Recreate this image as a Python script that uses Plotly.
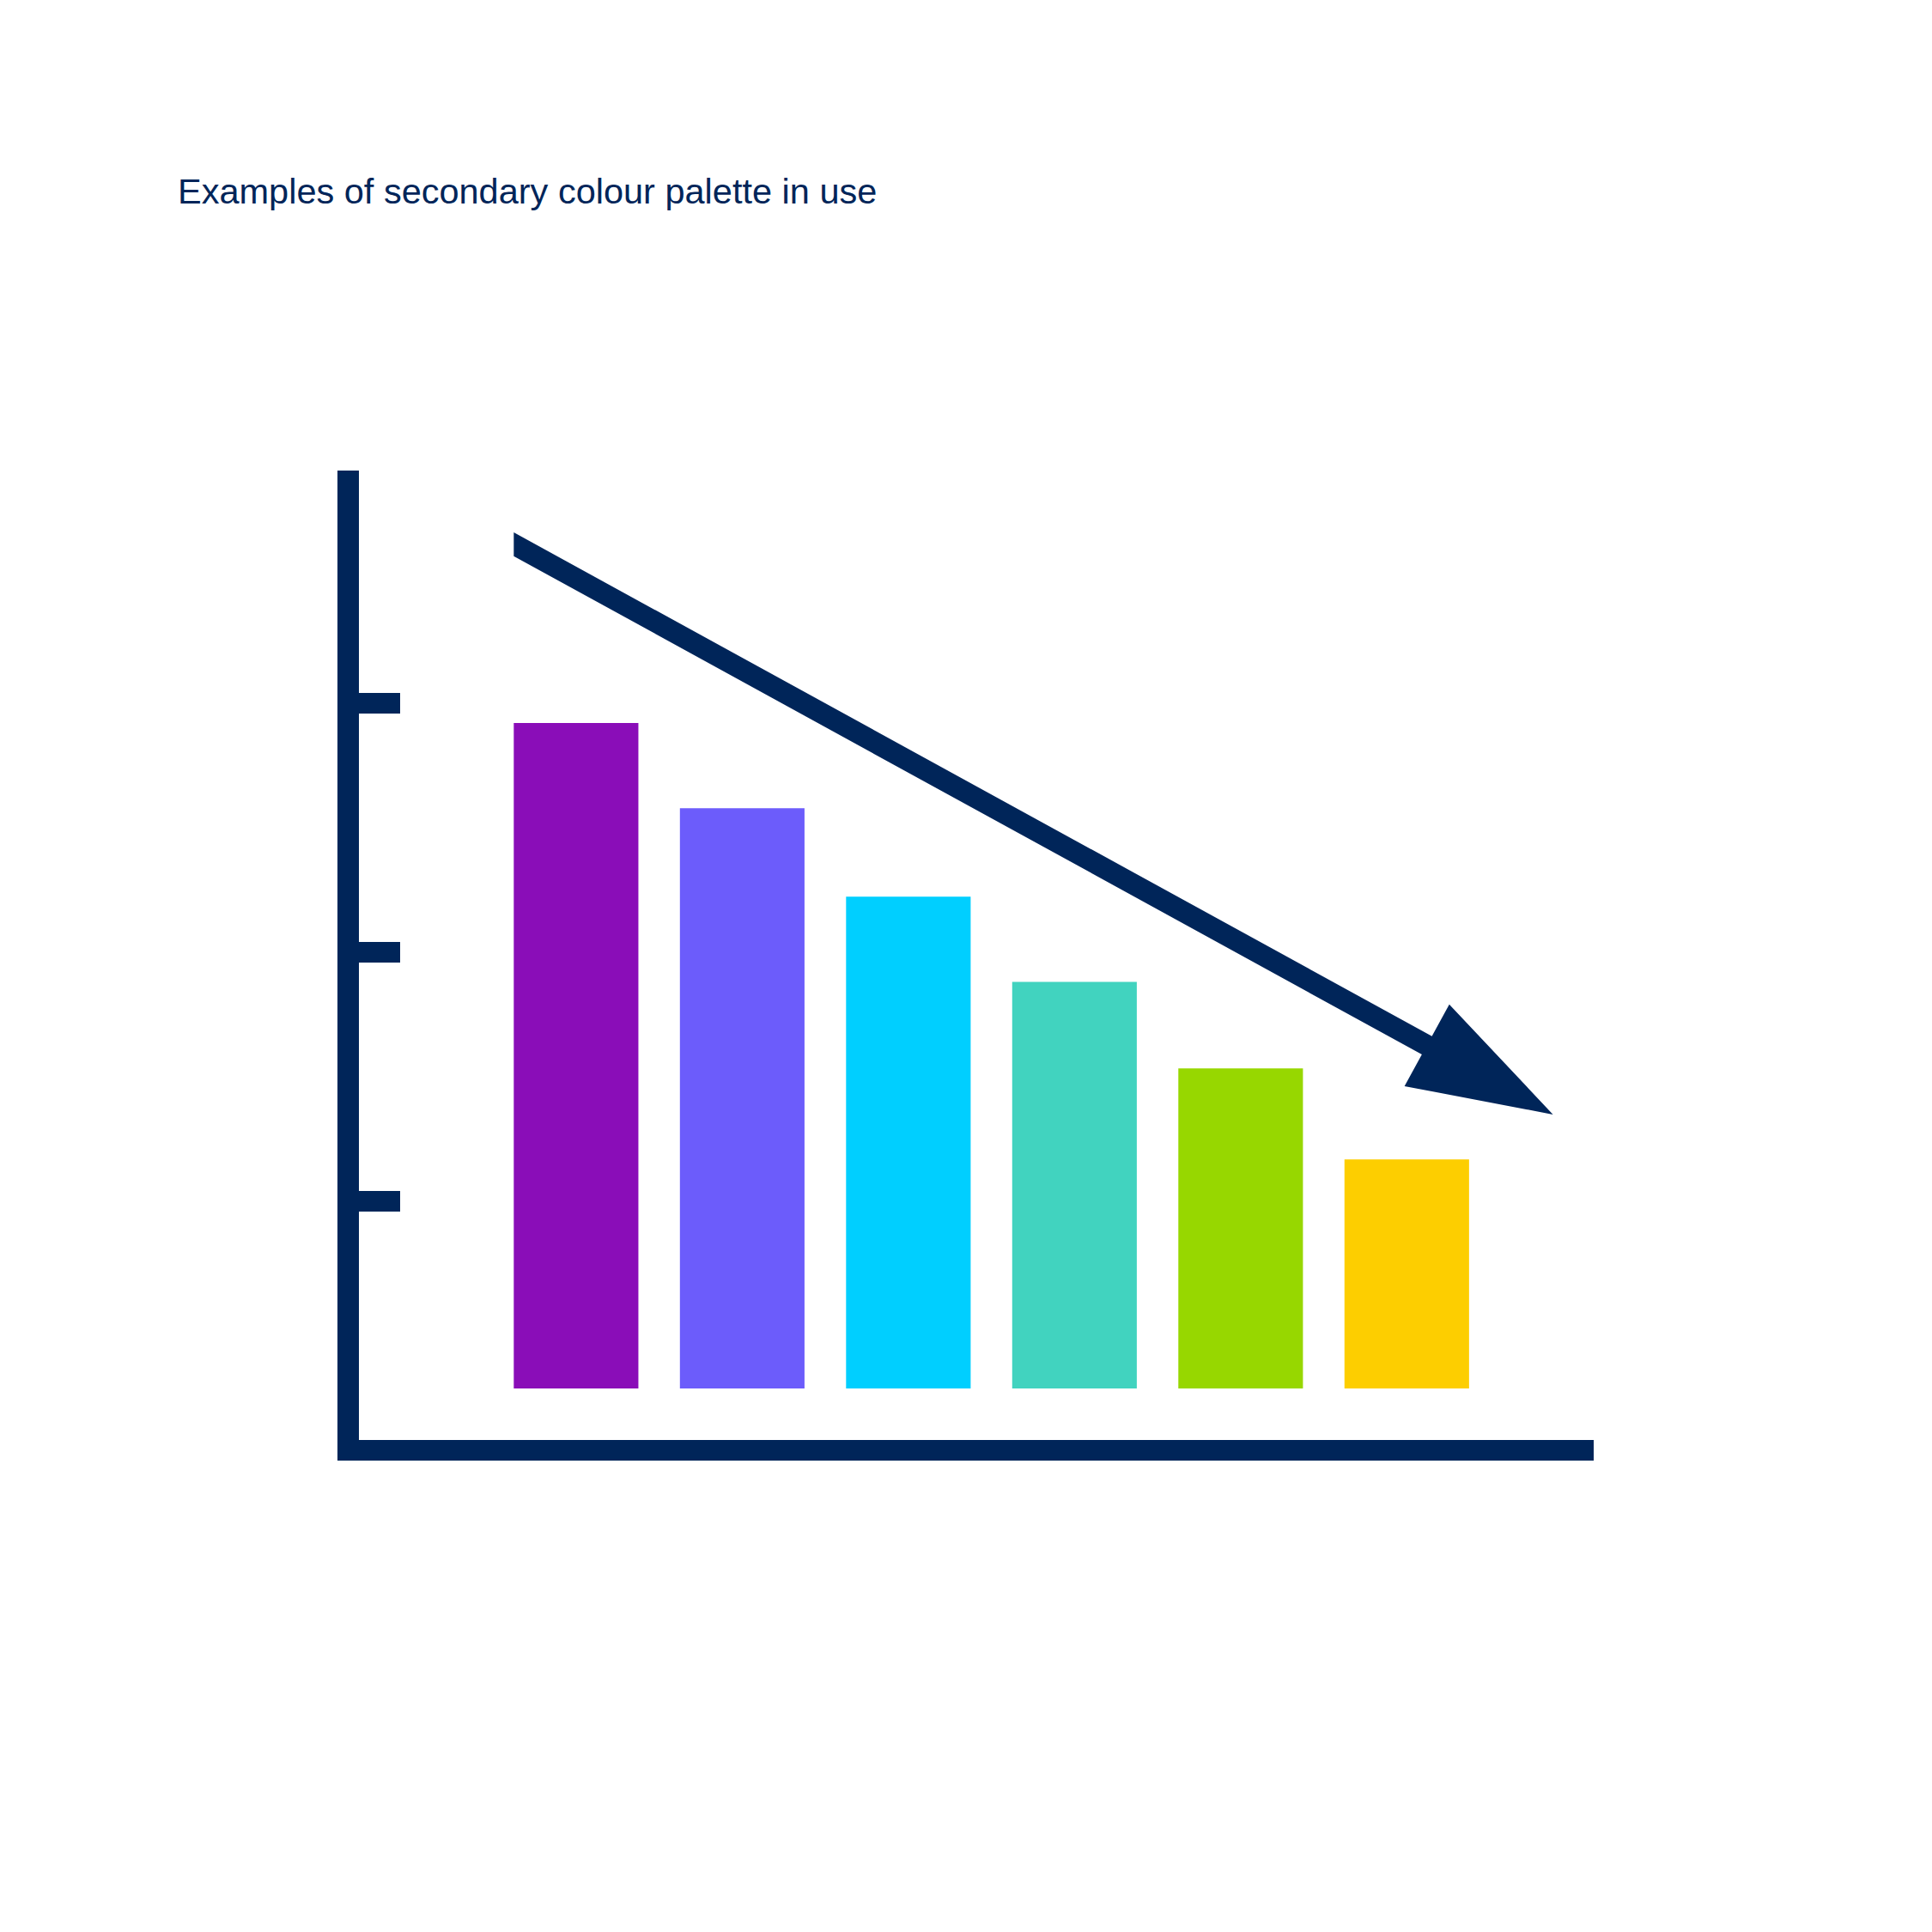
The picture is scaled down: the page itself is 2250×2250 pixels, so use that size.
import plotly.graph_objects as go

# ---- data ----
categories = ["Purple", "Violet", "Cyan", "Teal", "Lime", "Yellow"]
values = [53.45, 46.6, 39.5, 32.65, 25.7, 18.4]
bar_colors = ["#8A0DB8", "#6C5CFB", "#00CFFF", "#41D3BF", "#97D700", "#FDCE00"]
tick_values = [15, 35, 55]
arrow_x = [-0.375, 5.88]    # trend arrow start / tip (category units)
arrow_y = [67.8, 22.0]      # trend arrow start / tip (value units)
title_text = "Examples of secondary colour palette in use"

NAVY = "#002559"
W = H = 2250
OFF = 8  # default page margin of the html body
M_L, M_R, M_T, M_B = 418 - OFF, 394 + OFF, 548 - OFF, 573 + OFF
X_RANGE = [-1.307, 6.125]
Y_RANGE = [-4.14, 73.72]

pw = W - M_L - M_R
ph = H - M_T - M_B
sx = pw / (X_RANGE[1] - X_RANGE[0])
sy = ph / (Y_RANGE[1] - Y_RANGE[0])


def to_px(x, y):
    return ((x - X_RANGE[0]) * sx, (Y_RANGE[1] - y) * sy)


def to_data(px, py):
    return (X_RANGE[0] + px / sx, Y_RANGE[1] - py / sy)


# arrow geometry (pixel sizes)
HEAD_LEN, HEAD_HALF, SHAFT_HALF = 167.5, 54.2, 12.15
s = to_px(arrow_x[0], arrow_y[0])
t = to_px(arrow_x[1], arrow_y[1])
dx, dy = t[0] - s[0], t[1] - s[1]
L = (dx * dx + dy * dy) ** 0.5
ux, uy = dx / L, dy / L
nx, ny = uy, -ux  # upper normal
bx, by = t[0] - HEAD_LEN * ux, t[1] - HEAD_LEN * uy
vcut = SHAFT_HALF / ux
poly_px = [
    (s[0], s[1] - vcut),
    (bx + SHAFT_HALF * nx, by + SHAFT_HALF * ny),
    (bx + HEAD_HALF * nx, by + HEAD_HALF * ny),
    t,
    (bx - HEAD_HALF * nx, by - HEAD_HALF * ny),
    (bx - SHAFT_HALF * nx, by - SHAFT_HALF * ny),
    (s[0], s[1] + vcut),
]
poly = [to_data(px, py) for px, py in poly_px]
poly.append(poly[0])

fig = go.Figure()
fig.add_trace(go.Bar(
    x=list(range(len(categories))), y=values, width=0.75,
    marker=dict(color=bar_colors, line=dict(width=0)),
    hovertext=categories, showlegend=False,
))
fig.add_trace(go.Scatter(
    x=[p[0] for p in poly], y=[p[1] for p in poly],
    mode="lines", fill="toself", fillcolor=NAVY,
    line=dict(color=NAVY, width=0), showlegend=False, hoverinfo="skip",
))

fig.update_layout(
    width=W, height=H,
    margin=dict(l=M_L, r=M_R, t=M_T, b=M_B, autoexpand=False),
    paper_bgcolor="white", plot_bgcolor="white",
    title=dict(
        text=title_text, xref="container", yref="container",
        x=(207 - OFF) / W, xanchor="left", y=1 - (222.3 - OFF) / H, yanchor="middle",
        font=dict(family="Liberation Sans, Arial, sans-serif", size=41.5, color=NAVY),
    ),
    xaxis=dict(
        range=X_RANGE, showgrid=False, zeroline=False, showticklabels=False,
        ticks="", showline=True, linewidth=24.4, linecolor=NAVY,
    ),
    yaxis=dict(
        range=Y_RANGE, showgrid=False, zeroline=False, showticklabels=False,
        tickmode="array", tickvals=tick_values, ticks="inside",
        ticklen=48, tickwidth=24.4, tickcolor=NAVY,
        showline=True, linewidth=24.7, linecolor=NAVY,
    ),
    showlegend=False,
)

fig.write_html("out.html")
